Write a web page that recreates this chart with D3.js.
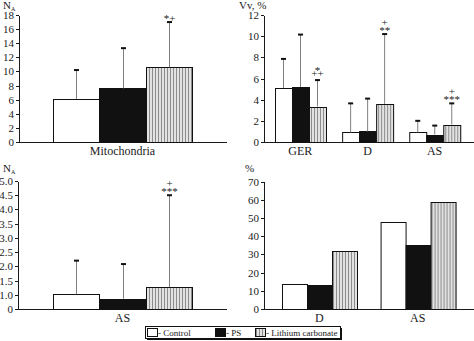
<!DOCTYPE html>
<html>
<head>
<meta charset="utf-8">
<script src="https://cdn.jsdelivr.net/npm/d3@7"></script>
<style>
  body { margin: 0; background: #fff; }
  svg { display: block; }
  .axis path, .axis line { stroke: #1a1a1a; shape-rendering: crispEdges; }
</style>
</head>
<body>
<svg id="chart" width="474" height="341"></svg>
<script>
/* global d3 */

var groups = ["Control", "PS", "Lithium carbonate"];

// top left: N_A, mitochondria
var mitoCats = ["Mitochondria"];
var mitoMean = [[6.1, 7.6, 10.6]];
var mitoSd = [[4.1, 5.7, 6.4]];
var mitoMarks = [[[], [], ["*+"]]];
var mitoTicks = [0, 2, 4, 6, 8, 10, 12, 14, 16, 18];

// top right: Vv, %
var vvCats = ["GER", "D", "AS"];
var vvMean = [[5.1, 5.2, 3.35], [0.9, 1.0, 3.6], [0.9, 0.7, 1.65]];
var vvSd = [[2.75, 4.95, 2.5], [2.75, 3.1, 6.6], [1.1, 0.85, 2.0]];
var vvMarks = [[[], [], ["++", "*"]], [[], [], ["**", "+"]], [[], [], ["***", "+"]]];
var vvTicks = [0, 2, 4, 6, 8, 10, 12];

// bottom left: N_A, AS (axis starts at 0.5, labelled "0")
var asCats = ["AS"];
var asMean = [[1.02, 0.86, 1.27]];
var asSd = [[1.18, 1.22, 3.23]];
var asMarks = [[[], [], ["***", "+"]]];
var asTicks = [0.5, 1.0, 1.5, 2.0, 2.5, 3.0, 3.5, 4.0, 4.5, 5.0];

// bottom right: %
var pctCats = ["D", "AS"];
var pctVals = [[14, 13, 32], [48, 35, 59]];
var pctTicks = [0, 10, 20, 30, 40, 50, 60, 70];

var SERIF = "'Liberation Serif', 'Times New Roman', 'DejaVu Serif', serif";
var INK = "#1a1a1a";

var svg = d3.select("#chart").attr("font-family", SERIF);

// vertical hatch for lithium carbonate
var defs = svg.append("defs");
var pat = defs.append("pattern")
    .attr("id", "hatch")
    .attr("patternUnits", "userSpaceOnUse")
    .attr("width", 3).attr("height", 4);
pat.append("rect").attr("width", 3).attr("height", 4).attr("fill", "#e2e2e2");
pat.append("rect").attr("width", 1).attr("height", 4).attr("fill", "#8c8c8c");

var fills = ["#ffffff", "#111111", "url(#hatch)"];

// rough glyph extents (in em) above the baseline, used to stack marks
function glyphBox(m) {
  return m.indexOf("*") >= 0 ? [0.68, 0.32] : [0.55, 0.09];
}

function panel(cfg) {
  var g = svg.append("g");
  var y = d3.scaleLinear().domain(cfg.yDomain).range(cfg.yRange);
  var base = cfg.yDomain[0];

  var x0 = d3.scaleBand()
      .domain(cfg.cats)
      .range(cfg.xRange)
      .paddingInner(cfg.pad || 0);
  var x1 = d3.scaleBand()
      .domain(groups)
      .range([0, x0.bandwidth()]);

  // y axis
  var ax = g.append("g")
      .attr("class", "axis")
      .attr("transform", "translate(" + cfg.axisX + ",0)")
      .call(d3.axisLeft(y)
          .tickValues(cfg.ticks)
          .tickSize(3)
          .tickSizeOuter(0)
          .tickPadding(2)
          .tickFormat(cfg.fmt));
  ax.selectAll("text")
      .style("font-family", SERIF)
      .style("font-size", "11px")
      .attr("fill", INK);

  // x baseline
  g.append("line")
      .attr("x1", cfg.axisX).attr("x2", cfg.axisEnd)
      .attr("y1", Math.round(y(base)) + 0.5).attr("y2", Math.round(y(base)) + 0.5)
      .attr("stroke", INK);

  cfg.cats.forEach(function(c, ci) {
    var row = cfg.vals[ci];
    var grp = g.append("g").attr("transform", "translate(" + x0(c) + ",0)");

    grp.selectAll("rect")
      .data(row)
      .enter().append("rect")
        .attr("x", function(d, i) { return Math.round(x1(groups[i])) + 0.5; })
        .attr("y", function(d) { return Math.round(y(d)) + 0.5; })
        .attr("width", Math.round(x1.bandwidth()))
        .attr("height", function(d) { return Math.round(y(base)) - Math.round(y(d)); })
        .attr("fill", function(d, i) { return fills[i]; })
        .attr("stroke", "#111");

    if (!cfg.sd) return;
    row.forEach(function(d, i) {
      var cx = Math.round(x1(groups[i]) + x1.bandwidth() / 2) + 0.5
        , top = y(d + cfg.sd[ci][i])
        , limit = top - 4
        , fs = 11
        , marks = cfg.marks[ci][i];
      grp.append("line")
          .attr("x1", cx).attr("x2", cx)
          .attr("y1", y(d)).attr("y2", top)
          .attr("stroke", "#808080");
      grp.append("line")
          .attr("x1", cx - 2.5).attr("x2", cx + 2.5)
          .attr("y1", top).attr("y2", top)
          .attr("stroke", "#111").attr("stroke-width", 2);
      if (!marks.length) return;
      // significance marks, stacked upward from the cap in one text block
      var mt = grp.append("text")
          .attr("text-anchor", "middle")
          .attr("fill", INK)
          .style("font-size", fs + "px");
      marks.forEach(function(m) {
        var box = glyphBox(m)
          , baseline = limit + box[1] * fs;
        mt.append("tspan")
            .attr("x", cx)
            .attr("y", baseline)
            .text(m);
        limit = baseline - box[0] * fs - 1;
      });
    });
  });

  // category labels
  g.selectAll(".cat")
    .data(cfg.cats)
    .enter().append("text")
      .attr("class", "cat")
      .attr("x", function(c) { return x0(c) + x0.bandwidth() / 2; })
      .attr("y", y(base) + 13)
      .attr("text-anchor", "middle")
      .attr("fill", INK)
      .style("font-size", "12px")
      .text(function(c) { return c; });

  // axis title
  var t = g.append("text")
      .attr("x", cfg.titleX).attr("y", cfg.titleY)
      .attr("fill", INK)
      .style("font-size", "11px");
  t.append("tspan").text(cfg.title);
  if (cfg.sub) {
    t.append("tspan").attr("dy", 2).style("font-size", "6px").text(cfg.sub);
  }
}

panel({
  cats: mitoCats, vals: mitoMean, sd: mitoSd, marks: mitoMarks,
  xRange: [53, 192], axisX: 19, axisEnd: 227,
  yDomain: [0, 18], yRange: [142, 15], ticks: mitoTicks, fmt: d3.format("d"),
  title: "N", sub: "A", titleX: 3, titleY: 9
});

panel({
  cats: vvCats, vals: vvMean, sd: vvSd, marks: vvMarks,
  xRange: [275, 460], pad: 0.244, axisX: 264, axisEnd: 474,
  yDomain: [0, 12], yRange: [142, 15], ticks: vvTicks, fmt: d3.format("d"),
  title: "Vv, %", titleX: 239, titleY: 9
});

panel({
  cats: asCats, vals: asMean, sd: asSd, marks: asMarks,
  xRange: [53, 192], axisX: 18, axisEnd: 227,
  yDomain: [0.5, 5], yRange: [309, 181], ticks: asTicks,
  fmt: function(d) { return d === 0.5 ? "0" : d3.format(".1f")(d); },
  title: "N", sub: "A", titleX: 3, titleY: 172
});

panel({
  cats: pctCats, vals: pctVals,
  xRange: [282, 455], pad: 0.245, axisX: 264, axisEnd: 474,
  yDomain: [0, 70], yRange: [309, 181.7], ticks: pctTicks, fmt: d3.format("d"),
  title: "%", titleX: 245, titleY: 172
});

// legend with drop shadow
var leg = svg.append("g").attr("transform", "translate(145,326)");
leg.append("rect").attr("x", 2).attr("y", 2).attr("width", 195).attr("height", 12).attr("fill", "#111");
leg.append("rect").attr("x", 0.5).attr("y", 0.5).attr("width", 195).attr("height", 12)
    .attr("fill", "#fff").attr("stroke", "#111");
var legX = [2, 70, 110];
groups.forEach(function(gname, i) {
  leg.append("rect")
      .attr("x", legX[i] + 0.5).attr("y", 2.5)
      .attr("width", 10).attr("height", 8)
      .attr("fill", fills[i]).attr("stroke", "#111");
  leg.append("text")
      .attr("x", legX[i] + 11).attr("y", 9.5)
      .attr("fill", INK)
      .style("font-size", "9px")
      .text("- " + gname);
});
</script>
</body>
</html>
